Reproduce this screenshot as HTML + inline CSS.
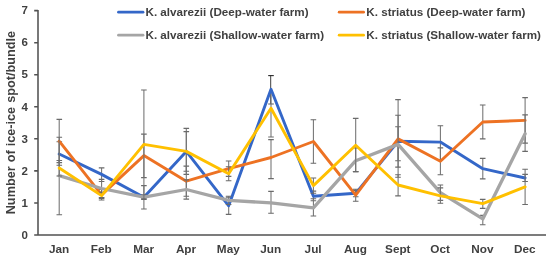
<!DOCTYPE html><html><head><meta charset="utf-8"><title>chart</title><style>html,body{margin:0;padding:0;background:#fff}svg{display:block}</style></head><body><svg width="550" height="258" viewBox="0 0 550 258" font-family="&quot;Liberation Sans&quot;, sans-serif" font-weight="bold" fill="#404040">
<rect width="550" height="258" fill="#fff"/>
<path d="M59.2 165.3V141.8M101.6 181.5V167.9M143.9 209.0V185.6M186.3 174.4V128.4M228.7 214.4V197.2M313.4 200.7V191.1M355.7 196.8V190.4M398.1 160.7V126.8M440.4 159.7V125.8M482.8 178.9V158.4M525.1 181.5V174.4" stroke="#727272" stroke-width="1.05" fill="none"/><path d="M56.5 165.3h5.6M56.5 141.8h5.6M98.8 181.5h5.6M98.8 167.9h5.6M141.1 209.0h5.6M141.1 185.6h5.6M183.5 174.4h5.6M183.5 128.4h5.6M225.8 214.4h5.6M225.8 197.2h5.6M310.6 200.7h5.6M310.6 191.1h5.6M352.9 196.8h5.6M352.9 190.4h5.6M395.2 160.7h5.6M395.2 126.8h5.6M437.6 159.7h5.6M437.6 125.8h5.6M479.9 178.9h5.6M479.9 158.4h5.6M522.3 181.5h5.6M522.3 174.4h5.6" stroke="#6a6a6a" stroke-width="1.1" fill="none"/>
<path d="M270.7 104.0V75.6" stroke="#2a2a2a" stroke-width="0.9" fill="none"/>
<path d="M268.2 75.6h5.6" stroke="#262626" stroke-width="1.1" fill="none"/>
<path d="M268.2 104.0h5.6" stroke="#6a6a6a" stroke-width="1.1" fill="none"/>
<polyline points="59.2,154.0 101.6,174.4 143.9,197.2 186.3,151.4 228.7,205.8 271.0,89.3 313.4,196.2 355.7,193.3 398.1,141.3 440.4,142.1 482.8,168.7 525.1,178.0" fill="none" stroke="#3467c8" stroke-width="2.9" stroke-linejoin="round" stroke-linecap="round"/>
<path d="M59.2 162.6V119.4M101.6 200.0V189.5M143.9 177.6V134.1M186.3 196.2V166.1M228.7 176.4V161.0M271.0 178.6V139.6M313.4 163.2V119.7M355.7 201.3V189.2M398.1 177.3V99.6M440.4 174.8V147.9M482.8 138.9V105.0M525.1 143.1V97.6" stroke="#727272" stroke-width="1.05" fill="none"/><path d="M56.5 162.6h5.6M56.5 119.4h5.6M98.8 200.0h5.6M98.8 189.5h5.6M141.1 177.6h5.6M141.1 134.1h5.6M183.5 196.2h5.6M183.5 166.1h5.6M225.8 176.4h5.6M225.8 161.0h5.6M268.2 178.6h5.6M268.2 139.6h5.6M310.6 163.2h5.6M310.6 119.7h5.6M352.9 201.3h5.6M352.9 189.2h5.6M395.2 177.3h5.6M395.2 99.6h5.6M437.6 174.8h5.6M437.6 147.9h5.6M479.9 138.9h5.6M479.9 105.0h5.6M522.3 143.1h5.6M522.3 97.6h5.6" stroke="#6a6a6a" stroke-width="1.1" fill="none"/>
<polyline points="59.2,141.2 101.6,194.9 143.9,155.6 186.3,181.2 228.7,168.7 271.0,157.5 313.4,141.5 355.7,195.2 398.1,138.9 440.4,161.3 482.8,122.0 525.1,120.4" fill="none" stroke="#ed7223" stroke-width="2.9" stroke-linejoin="round" stroke-linecap="round"/>
<path d="M59.2 214.8V137.3M101.6 197.5V179.4M143.9 199.4V194.9M186.3 199.1V179.9M228.7 204.5V196.2M271.0 213.2V191.4M313.4 216.0V198.8M355.7 171.6V147.9M398.1 167.1V115.2M440.4 200.4V185.0M482.8 224.7V215.4M525.1 151.4V114.9" stroke="#727272" stroke-width="1.05" fill="none"/><path d="M56.5 214.8h5.6M56.5 137.3h5.6M98.8 197.5h5.6M98.8 179.4h5.6M141.1 199.4h5.6M141.1 194.9h5.6M183.5 199.1h5.6M183.5 179.9h5.6M225.8 204.5h5.6M225.8 196.2h5.6M268.2 213.2h5.6M268.2 191.4h5.6M310.6 216.0h5.6M310.6 198.8h5.6M352.9 171.6h5.6M352.9 147.9h5.6M395.2 167.1h5.6M395.2 115.2h5.6M437.6 200.4h5.6M437.6 185.0h5.6M479.9 224.7h5.6M479.9 215.4h5.6M522.3 151.4h5.6M522.3 114.9h5.6" stroke="#6a6a6a" stroke-width="1.1" fill="none"/>
<polyline points="59.2,175.7 101.6,188.5 143.9,197.2 186.3,189.5 228.7,200.4 271.0,202.9 313.4,207.9 355.7,160.7 398.1,144.4 440.4,192.7 482.8,218.9 525.1,133.8" fill="none" stroke="#a5a5a5" stroke-width="3.3" stroke-linejoin="round" stroke-linecap="round"/>
<path d="M59.2 176.0V160.5M101.6 198.4V192.4M143.9 198.8V90.0M186.3 171.2V131.6M228.7 180.8V166.8M271.0 137.0V93.8M313.4 193.3V178.0M355.7 171.6V118.4M398.1 195.9V174.8M440.4 203.2V187.9M482.8 208.4V199.4M525.1 204.5V169.3" stroke="#727272" stroke-width="1.05" fill="none"/><path d="M56.5 176.0h5.6M56.5 160.5h5.6M98.8 198.4h5.6M98.8 192.4h5.6M141.1 198.8h5.6M141.1 90.0h5.6M183.5 171.2h5.6M183.5 131.6h5.6M225.8 180.8h5.6M225.8 166.8h5.6M268.2 137.0h5.6M310.6 193.3h5.6M310.6 178.0h5.6M352.9 171.6h5.6M352.9 118.4h5.6M395.2 195.9h5.6M395.2 174.8h5.6M437.6 203.2h5.6M437.6 187.9h5.6M479.9 208.4h5.6M479.9 199.4h5.6M522.3 204.5h5.6M522.3 169.3h5.6" stroke="#6a6a6a" stroke-width="1.1" fill="none"/>
<polyline points="59.2,168.0 101.6,195.6 143.9,144.4 186.3,151.4 228.7,173.8 271.0,108.2 313.4,185.6 355.7,145.3 398.1,185.0 440.4,195.9 482.8,203.6 525.1,186.9" fill="none" stroke="#ffc000" stroke-width="2.9" stroke-linejoin="round" stroke-linecap="round"/>
<path d="M38.0 9.90V234.95H546.0M34.2 234.95H38.0M34.2 202.90H38.0M34.2 170.85H38.0M34.2 138.80H38.0M34.2 106.75H38.0M34.2 74.70H38.0M34.2 42.65H38.0M34.2 10.60H38.0" stroke="#525252" stroke-width="1.55" fill="none"/>
<text x="28.0" y="238.6" font-size="11.5" text-anchor="end">0</text>
<text x="28.0" y="206.6" font-size="11.5" text-anchor="end">1</text>
<text x="28.0" y="174.5" font-size="11.5" text-anchor="end">2</text>
<text x="28.0" y="142.5" font-size="11.5" text-anchor="end">3</text>
<text x="28.0" y="110.5" font-size="11.5" text-anchor="end">4</text>
<text x="28.0" y="78.4" font-size="11.5" text-anchor="end">5</text>
<text x="28.0" y="46.4" font-size="11.5" text-anchor="end">6</text>
<text x="28.0" y="14.3" font-size="11.5" text-anchor="end">7</text>
<text x="59.0" y="252.7" font-size="11.75" text-anchor="middle">Jan</text>
<text x="101.3" y="252.7" font-size="11.75" text-anchor="middle">Feb</text>
<text x="143.6" y="252.7" font-size="11.75" text-anchor="middle">Mar</text>
<text x="186.0" y="252.7" font-size="11.75" text-anchor="middle">Apr</text>
<text x="228.3" y="252.7" font-size="11.75" text-anchor="middle">May</text>
<text x="270.7" y="252.7" font-size="11.75" text-anchor="middle">Jun</text>
<text x="313.1" y="252.7" font-size="11.75" text-anchor="middle">Jul</text>
<text x="355.4" y="252.7" font-size="11.75" text-anchor="middle">Aug</text>
<text x="397.8" y="252.7" font-size="11.75" text-anchor="middle">Sept</text>
<text x="440.1" y="252.7" font-size="11.75" text-anchor="middle">Oct</text>
<text x="482.4" y="252.7" font-size="11.75" text-anchor="middle">Nov</text>
<text x="524.8" y="252.7" font-size="11.75" text-anchor="middle">Dec</text>
<text transform="translate(15.0,122.6) rotate(-90)" font-size="12.7" word-spacing="0.5" text-anchor="middle">Number of ice-ice spot/bundle</text>
<line x1="118.5" y1="12.2" x2="143.0" y2="12.2" stroke="#3467c8" stroke-width="2.8" stroke-linecap="round"/>
<text x="145.5" y="15.65" font-size="11.65">K. alvarezii (Deep-water farm)</text>
<line x1="118.5" y1="35.2" x2="143.0" y2="35.2" stroke="#a5a5a5" stroke-width="2.8" stroke-linecap="round"/>
<text x="145.5" y="38.65" font-size="11.65">K. alvarezii (Shallow-water farm)</text>
<line x1="339.2" y1="12.2" x2="363.6" y2="12.2" stroke="#ed7223" stroke-width="2.8" stroke-linecap="round"/>
<text x="366.3" y="15.65" font-size="11.65">K. striatus (Deep-water farm)</text>
<line x1="339.2" y1="35.2" x2="363.6" y2="35.2" stroke="#ffc000" stroke-width="2.8" stroke-linecap="round"/>
<text x="366.3" y="38.65" font-size="11.65">K. striatus (Shallow-water farm)</text>
</svg></body></html>
